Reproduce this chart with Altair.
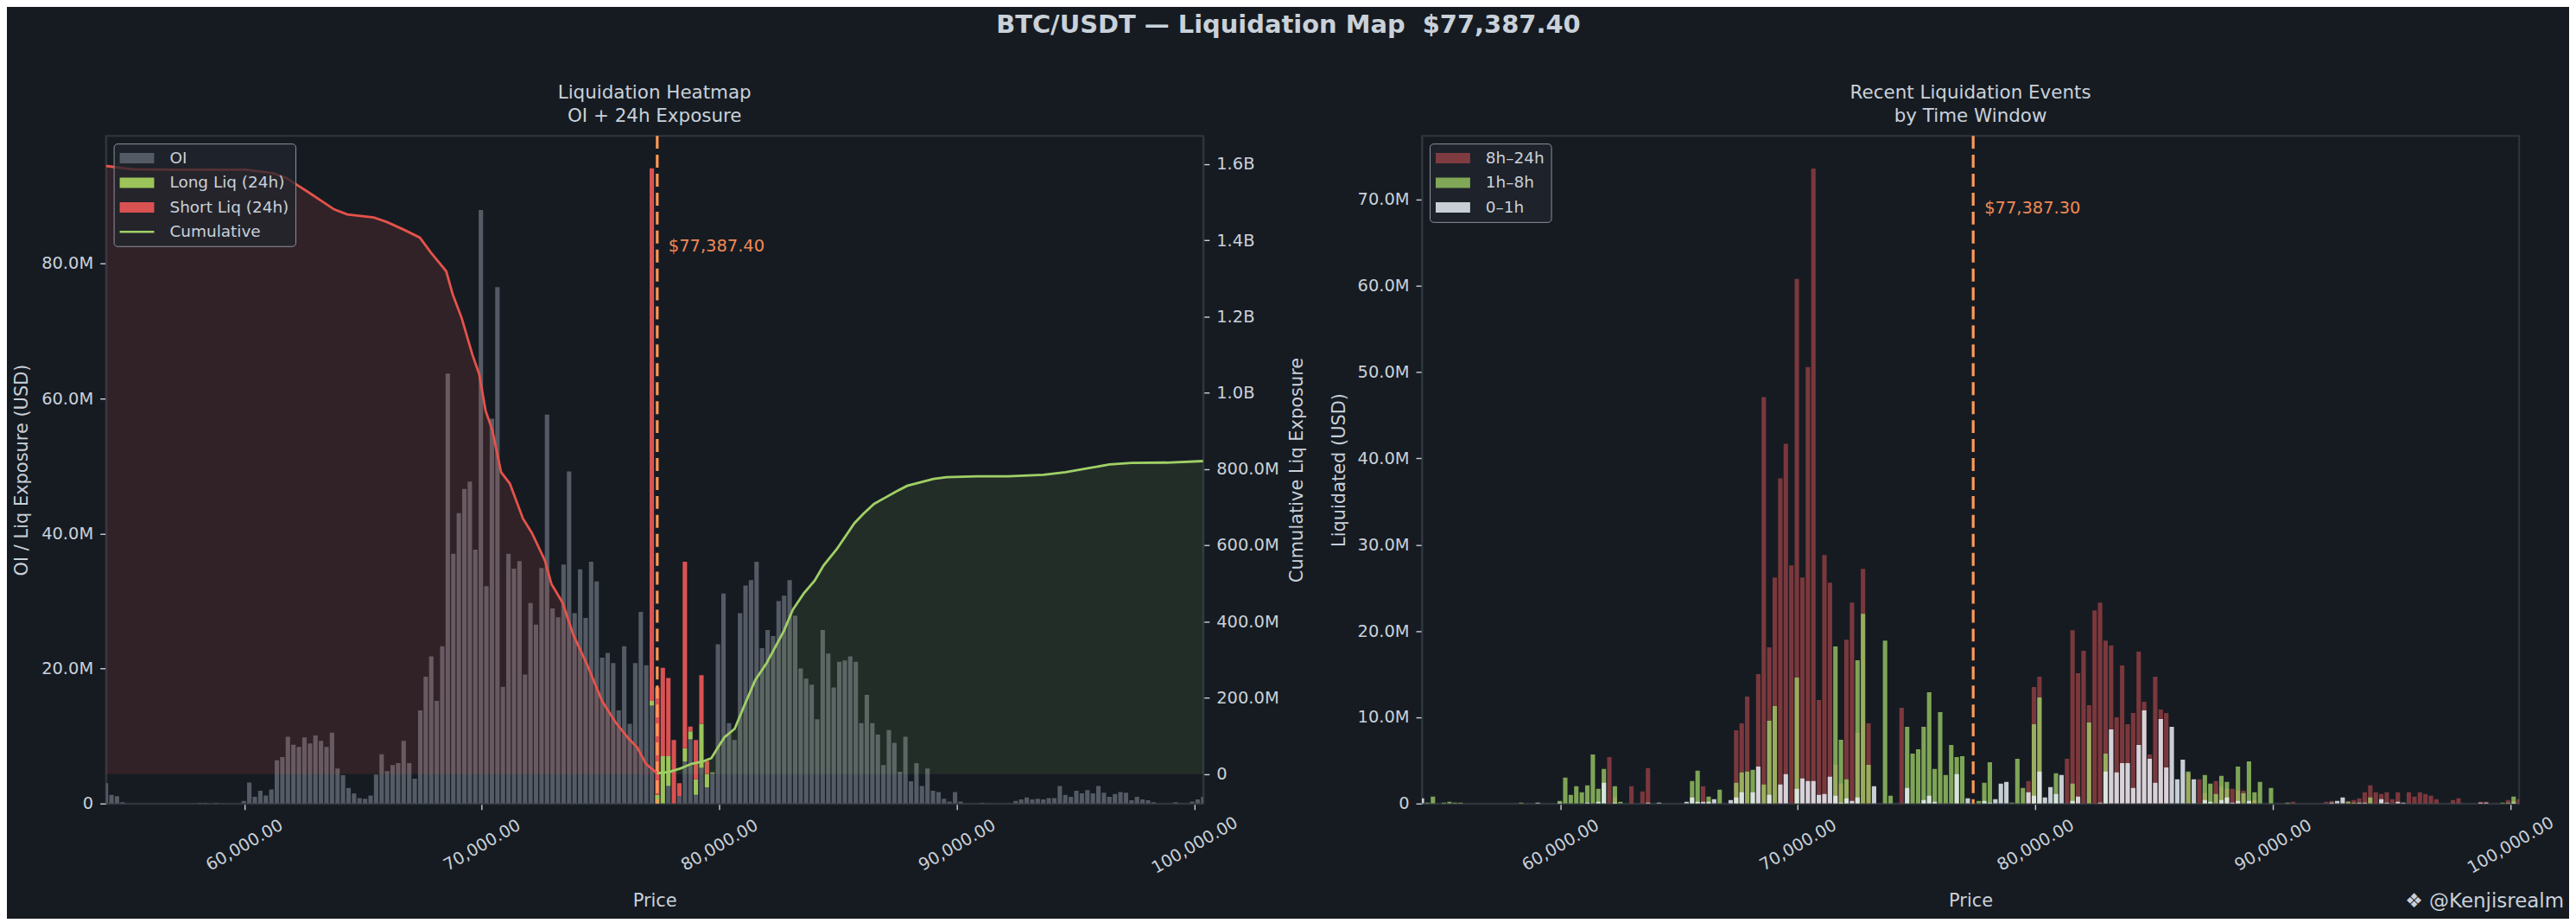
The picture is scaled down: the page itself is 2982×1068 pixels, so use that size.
import altair as alt
import pandas as pd

# ---------------- values ----------------
PRICE_LO = 54180.0
PRICE_HI = 100370.0
N_BINS = 200
PRICE_NOW_LEFT = 77387.40
PRICE_NOW_RIGHT = 77387.30

# open interest per price bin (millions USD)
OI_M = [
    3.0, 1.3, 1.1, 0.2, 0, 0, 0, 0, 0, 0,
    0, 0, 0, 0, 0, 0, 0, 0.1, 0.1, 0,
    0.1, 0, 0, 0, 0, 0.4, 3.1, 1.0, 1.9, 1.2,
    2.1, 6.4, 6.9, 9.9, 8.7, 8.4, 9.8, 8.9, 10.1, 9.3,
    8.4, 10.5, 5.2, 4.2, 2.3, 1.5, 0.8, 0.7, 1.2, 4.3,
    7.3, 4.8, 5.7, 6.0, 9.3, 6.0, 3.7, 13.8, 18.8, 21.8,
    15.2, 23.3, 63.7, 37.0, 43.0, 46.6, 47.7, 37.6, 87.9, 32.2,
    57.0, 76.5, 17.3, 37.0, 34.8, 35.9, 19.1, 29.7, 26.5, 34.9,
    57.6, 28.9, 27.6, 35.4, 49.2, 28.2, 34.7, 27.5, 35.8, 32.9,
    21.6, 22.3, 20.8, 13.8, 23.3, 11.8, 20.8, 28.4, 20.5, 14.5,
    0, 0, 2.6, 0, 1.1, 6.2, 9.5, 1.3, 5.3, 2.4,
    4.5, 23.6, 31.1, 11.9, 9.4, 28.2, 32.3, 33.1, 35.8, 23.0,
    25.7, 24.8, 30.0, 30.8, 33.1, 27.8, 20.0, 18.5, 17.6, 12.5,
    25.7, 22.2, 17.2, 21.0, 21.2, 21.8, 21.0, 11.9, 16.1, 11.9,
    10.2, 5.7, 10.9, 9.0, 4.7, 9.9, 3.3, 6.0, 2.6, 5.2,
    1.9, 1.7, 0.7, 0.3, 1.7, 0.3, 0, 0, 0, 0.1,
    0, 0, 0, 0, 0, 0.4, 0.6, 0.9, 0.6, 0.7,
    0.6, 0.8, 0.8, 2.6, 1.3, 1.0, 1.9, 1.5, 2.0, 1.5,
    2.6, 1.6, 1.0, 1.4, 1.7, 1.6, 0.5, 1.0, 0.6, 0.5,
    0.2, 0, 0, 0, 0.2, 0, 0, 0.3, 0.6, 1.0,
]

# 24h liquidation exposure near price (bin index, millions USD)
LONG_BIN = [99, 100, 101, 102, 105, 106, 107, 108, 109, 110]
LONG_M = [0.7, 1.3, 7.0, 4.4, 2.0, 1.2, 2.3, 6.5, 2.0, 0.1]
SHORT_BIN = [99, 100, 101, 102, 103, 104, 105, 106, 107, 108, 109]
SHORT_M = [78.9, 15.9, 13.1, 11.6, 9.4, 1.9, 27.6, 0.7, 5.8, 7.2, 1.9]

# cumulative exposure curves (price, millions USD)
RED_CUM_PRICE = [54180, 55286, 57134, 58983, 60092, 61201, 61756, 62680, 63789, 64343,
                 65452, 66007, 66746, 67393, 67855, 68503, 68780, 69150, 69612, 69889,
                 70166, 70443, 70813, 71183, 71737, 72107, 72661, 72938, 73400, 73863,
                 74417, 75064, 75619, 76173, 76543, 76913, 77387]
RED_CUM_M = [1595, 1586, 1585, 1585, 1585, 1576, 1564, 1527, 1481, 1468,
             1460, 1448, 1427, 1407, 1368, 1319, 1258, 1197, 1099, 1050,
             952, 903, 792, 762, 670, 633, 560, 498, 450, 364,
             290, 192, 137, 94, 70, 27, 2]
GREEN_CUM_PRICE = [77387, 77907, 78370, 78833, 79296, 79667, 79944, 80222, 80648, 81056,
                   81519, 81981, 82352, 82722, 83093, 83556, 84019, 84389, 84944, 85685,
                   86056, 86519, 86981, 87444, 87907, 88463, 89019, 89574, 90870, 92167,
                   93648, 94574, 95500, 96426, 97352, 98833, 100370]
GREEN_CUM_M = [2, 6, 15, 27, 33, 42, 70, 97, 119, 180,
               247, 290, 333, 376, 431, 474, 508, 547, 590, 658,
               682, 709, 725, 741, 756, 765, 774, 779, 781, 781,
               785, 792, 802, 812, 816, 817, 821]

# recent liquidation events by time window (bin index, millions USD)
EV_8_24_BIN = [34, 35, 38, 40, 41, 51, 57, 58, 59, 61, 62, 63, 64, 65, 66, 67, 68, 69, 70, 71,
               72, 73, 74, 75, 76, 77, 78, 79, 80, 81, 87, 110, 111, 112, 117, 118, 119, 120, 121, 122,
               123, 124, 125, 126, 127, 128, 129, 130, 131, 132, 133, 134, 135, 139, 141, 142, 144, 145, 146, 147,
               148, 149, 151, 158, 164, 165, 168, 169, 170, 171, 172, 173, 174, 175, 176, 177, 179, 180, 181, 182,
               183, 184, 187, 188, 192, 193, 197, 198, 199]
EV_8_24_M = [5.4, 0.7, 2.0, 1.4, 4.1, 2.0, 8.5, 9.3, 12.4, 15.0, 47.1, 18.1, 26.2, 37.7, 41.7, 27.6, 60.8, 26.2, 50.6, 73.6,
             12.0, 28.8, 25.6, 4.5, 2.3, 19.0, 23.3, 8.2, 27.2, 9.3, 11.1, 2.6, 13.5, 14.7, 5.2, 20.1, 15.1, 17.7, 11.4, 22.4,
             23.3, 18.9, 18.3, 10.0, 16.0, 9.2, 10.5, 17.6, 11.8, 5.7, 14.7, 10.9, 10.5, 3.5, 2.8, 1.2, 2.6, 2.0, 1.7, 1.7,
             1.5, 1.5, 0.4, 0.2, 0.2, 0.3, 0.3, 0.4, 0.6, 1.3, 2.1, 1.3, 1.1, 1.3, 0.5, 1.3, 1.3, 0.8, 1.3, 1.1,
             0.9, 0.5, 0.4, 0.6, 0.2, 0.2, 0.4, 0.3, 0.5]
EV_1_8_BIN = [1, 2, 4, 5, 6, 7, 18, 25, 26, 27, 28, 29, 30, 31, 32, 33, 35, 36, 49, 50,
              52, 54, 57, 58, 59, 60, 62, 63, 64, 68, 75, 76, 77, 79, 80, 81, 84, 85, 88, 89,
              90, 91, 92, 93, 94, 95, 96, 97, 98, 101, 102, 103, 107, 108, 109, 111, 112, 115, 118, 121,
              124, 139, 142, 143, 144, 145, 146, 148, 149, 150, 151, 152, 154, 157, 168, 169, 172, 196, 197, 198]
EV_1_8_M = [0.1, 0.8, 0.1, 0.2, 0.1, 0.1, 0.1, 0.3, 3.0, 1.0, 2.0, 1.3, 2.1, 5.7, 1.7, 4.0, 2.0, 0.2, 2.6, 3.8,
            0.8, 1.6, 2.4, 3.6, 3.7, 3.9, 2.2, 9.6, 11.3, 14.6, 18.2, 7.4, 2.8, 16.6, 22.0, 4.5, 18.9, 0.9, 8.9, 5.8,
            6.3, 8.9, 12.9, 4.0, 10.6, 3.3, 6.8, 5.4, 5.5, 0.3, 2.4, 4.8, 0.1, 5.2, 1.8, 9.2, 12.3, 3.5, 2.3, 9.4,
            5.8, 3.7, 3.3, 2.3, 1.1, 3.2, 2.5, 4.3, 1.2, 4.9, 1.3, 2.5, 1.8, 0.1, 0.2, 0.1, 0.7, 0.1, 0.1, 0.8]
EV_0_1_BIN = [0, 21, 25, 30, 32, 33, 35, 41, 43, 48, 49, 50, 51, 52, 53, 56, 57, 58, 60, 61,
              63, 65, 66, 68, 69, 70, 71, 72, 73, 74, 75, 76, 77, 78, 79, 82, 88, 91, 92, 93,
              97, 99, 102, 103, 104, 105, 106, 110, 111, 112, 113, 114, 115, 116, 118, 119, 123, 124, 125, 126,
              127, 128, 129, 130, 131, 132, 133, 134, 135, 136, 137, 138, 140, 142, 143, 145, 146, 147, 148, 150,
              165, 166, 167, 170, 171, 174, 175, 177, 178, 192, 193, 198]
EV_0_1_M = [0.6, 0.1, 0.1, 0.1, 0.2, 2.4, 0.1, 0.1, 0.1, 0.2, 0.7, 0.2, 0.2, 0.2, 0.5, 0.4, 0.7, 1.3, 1.3, 4.3,
            1.0, 2.2, 3.4, 1.7, 2.9, 2.6, 2.6, 1.0, 1.1, 3.1, 0.9, 0.1, 0.6, 0.3, 0.7, 2.0, 1.8, 0.4, 0.9, 0.2,
            3.4, 0.6, 0.3, 0.1, 0.5, 2.3, 2.5, 1.3, 0.9, 3.7, 0.7, 1.9, 1.1, 3.3, 0.3, 0.8, 0.1, 3.7, 8.6, 3.6,
            4.7, 4.7, 1.8, 6.8, 10.8, 5.2, 2.4, 9.8, 4.2, 8.9, 2.8, 5.1, 2.8, 0.4, 0.2, 0.4, 0.7, 0.1, 0.3, 0.3,
            0.1, 0.3, 0.7, 0.1, 0.1, 0.5, 0.1, 0.2, 0.1, 0.1, 0.1, 0.1]

LEFT_SERIES = ["OI", "Long Liq (24h)", "Short Liq (24h)", "Cumulative"]
RIGHT_SERIES = ["8h\u201324h", "1h\u20138h", "0\u20131h"]

# ---------------- styling ----------------
BG = "#161b22"
FG = "#c9d1d9"
SPINE = "#30363d"
FONT = "DejaVu Sans"
ORANGE = "#ff9a55"
ORANGE_TXT = "#f08a55"
RED_LINE = "#e5534b"
GREEN_LINE = "#a0d066"
LEFT_COLORS = ["#555b65", "#9cc45a", "#d95252", GREEN_LINE]
RIGHT_COLORS = ["rgba(224,85,85,0.5)", "rgba(164,216,105,0.73)", "rgba(230,237,243,0.85)"]
PLOT_W, PLOT_H = 1274, 775

# ---------------- data tables ----------------
step = (PRICE_HI - PRICE_LO) / (N_BINS - 1)
half = 0.4 * step


def edges(i):
    c = PRICE_LO + i * step
    return c - half, c + half


long_full = [0.0] * N_BINS
for b, v in zip(LONG_BIN, LONG_M):
    long_full[b] = v
short_full = [0.0] * N_BINS
for b, v in zip(SHORT_BIN, SHORT_M):
    short_full[b] = v

left_rows = []
for i in range(N_BINS):
    x0, x1 = edges(i)
    base = 0.0
    for k, (name, v) in enumerate([(LEFT_SERIES[0], OI_M[i]), (LEFT_SERIES[1], long_full[i]),
                                   (LEFT_SERIES[2], short_full[i])]):
        if v > 0:
            left_rows.append({"series": name, "x0": x0, "x1": x1,
                              "y0": base * 1e6, "y1": (base + v) * 1e6, "k": k})
            base += v
df_left = pd.DataFrame(left_rows)

df_red = pd.DataFrame({"price": RED_CUM_PRICE, "cum": [v * 1e6 for v in RED_CUM_M]})
df_green = pd.DataFrame({"price": GREEN_CUM_PRICE, "cum": [v * 1e6 for v in GREEN_CUM_M]})

right_rows = []
for k, (name, bins, vals) in enumerate([(RIGHT_SERIES[0], EV_8_24_BIN, EV_8_24_M),
                                        (RIGHT_SERIES[1], EV_1_8_BIN, EV_1_8_M),
                                        (RIGHT_SERIES[2], EV_0_1_BIN, EV_0_1_M)]):
    for b, v in zip(bins, vals):
        x0, x1 = edges(b)
        right_rows.append({"window": name, "x0": x0, "x1": x1, "v": v * 1e6, "k": k})
df_right = pd.DataFrame(right_rows)

# ---------------- scales / axes ----------------
x_scale = alt.Scale(domain=[PRICE_LO, PRICE_HI], nice=False, zero=False)


def x_axis():
    return alt.Axis(values=[60000, 70000, 80000, 90000, 100000], format=",.2f",
                    labelAngle=330, labelAlign="center", labelBaseline="middle",
                    labelPadding=41, labelFlush=False, labelOverlap=False,
                    title="Price", titlePadding=18)


M_EXPR = "datum.value == 0 ? '0' : format(datum.value / 1e6, '.1f') + 'M'"
MB_EXPR = ("datum.value == 0 ? '0' : (datum.value >= 1e9 ? format(datum.value / 1e9, '.1f') + 'B' "
           ": format(datum.value / 1e6, '.1f') + 'M')")

left_y_scale = alt.Scale(domain=[0, 98.9e6], nice=False, zero=False)
left_y_axis = alt.Axis(values=[0, 20e6, 40e6, 60e6, 80e6], labelExpr=M_EXPR,
                       title="OI / Liq Exposure (USD)", titlePadding=12, orient="left")
cum_scale = alt.Scale(domain=[-77.2e6, 1674e6], nice=False, zero=False)
cum_axis = alt.Axis(values=[0, 2e8, 4e8, 6e8, 8e8, 1e9, 1.2e9, 1.4e9, 1.6e9], labelExpr=MB_EXPR,
                    title="Cumulative Liq Exposure", orient="right", titleAngle=270,
                    titleBaseline="top", titlePadding=10)
right_y_scale = alt.Scale(domain=[0, 77.4e6], nice=False, zero=False)
right_y_axis = alt.Axis(values=[0, 1e7, 2e7, 3e7, 4e7, 5e7, 6e7, 7e7], labelExpr=M_EXPR,
                        title="Liquidated (USD)", titlePadding=11, orient="left")

# legend patches: path units are scaled by sqrt(symbolSize)/2 = 10 px
BAR_SYMBOL = "M-2,-0.6H2V0.6H-2Z"
LINE_SYMBOL = "M-2,-0.13H2V0.13H-2Z"

left_legend = alt.Legend(
    title=None, orient="top-left",
    symbolType=alt.ExprRef(f"datum.value === 'Cumulative' ? '{LINE_SYMBOL}' : '{BAR_SYMBOL}'"),
)
right_legend = alt.Legend(title=None, orient="top-left", symbolType=BAR_SYMBOL)

# ---------------- left panel ----------------
bars_left = alt.Chart(df_left).mark_bar(clip=True).encode(
    x=alt.X("x0:Q", scale=x_scale, axis=x_axis()),
    x2="x1:Q",
    y=alt.Y("y0:Q", scale=left_y_scale, axis=left_y_axis),
    y2="y1:Q",
    color=alt.Color("series:N", scale=alt.Scale(domain=LEFT_SERIES, range=LEFT_COLORS), legend=left_legend),
    order=alt.Order("k:Q"),
)
rule_left = alt.Chart(pd.DataFrame({"p": [PRICE_NOW_LEFT]})).mark_rule(
    color=ORANGE, strokeWidth=3.2, strokeDash=[15, 7]
).encode(x=alt.X("p:Q", scale=x_scale, axis=x_axis()))
label_left = alt.Chart(pd.DataFrame({"p": [PRICE_NOW_LEFT], "y": [82.5e6], "t": ["$77,387.40"]})).mark_text(
    align="left", baseline="middle", dx=13, fontSize=19.5, color=ORANGE_TXT, font=FONT
).encode(x=alt.X("p:Q", scale=x_scale, axis=x_axis()),
         y=alt.Y("y:Q", scale=left_y_scale, axis=left_y_axis), text="t:N")

group_bars = alt.layer(bars_left, rule_left, label_left)

area_red = alt.Chart(df_red).mark_area(color=RED_LINE, opacity=0.13, clip=True).encode(
    x=alt.X("price:Q", scale=x_scale, axis=x_axis()),
    y=alt.Y("cum:Q", scale=cum_scale, axis=cum_axis), y2=alt.datum(0))
area_green = alt.Chart(df_green).mark_area(color=GREEN_LINE, opacity=0.1, clip=True).encode(
    x=alt.X("price:Q", scale=x_scale, axis=x_axis()),
    y=alt.Y("cum:Q", scale=cum_scale, axis=cum_axis), y2=alt.datum(0))
line_red = alt.Chart(df_red).mark_line(color=RED_LINE, strokeWidth=2.8, clip=True).encode(
    x=alt.X("price:Q", scale=x_scale, axis=x_axis()),
    y=alt.Y("cum:Q", scale=cum_scale, axis=cum_axis))
line_green = alt.Chart(df_green).mark_line(color=GREEN_LINE, strokeWidth=2.8, clip=True).encode(
    x=alt.X("price:Q", scale=x_scale, axis=x_axis()),
    y=alt.Y("cum:Q", scale=cum_scale, axis=cum_axis))
group_cum = alt.layer(area_red, area_green, line_red, line_green)

left = alt.layer(group_bars, group_cum).resolve_scale(y="independent").properties(
    width=PLOT_W, height=PLOT_H,
    title=alt.TitleParams(["Liquidation Heatmap", "OI + 24h Exposure"], fontSize=21.5,
                          fontWeight="normal", anchor="middle", offset=10, lineHeight=27, color=FG, font=FONT),
)

# ---------------- right panel ----------------
bars_right = alt.Chart(df_right).mark_bar(clip=True).encode(
    x=alt.X("x0:Q", scale=x_scale, axis=x_axis()),
    x2="x1:Q",
    y=alt.Y("v:Q", scale=right_y_scale, axis=right_y_axis, stack=None),
    y2=alt.datum(0),
    color=alt.Color("window:N", scale=alt.Scale(domain=RIGHT_SERIES, range=RIGHT_COLORS), legend=right_legend),
    order=alt.Order("k:Q"),
)
rule_right = alt.Chart(pd.DataFrame({"p": [PRICE_NOW_RIGHT]})).mark_rule(
    color=ORANGE, strokeWidth=3.2, strokeDash=[15, 7]
).encode(x=alt.X("p:Q", scale=x_scale, axis=x_axis()))
label_right = alt.Chart(pd.DataFrame({"p": [PRICE_NOW_RIGHT], "y": [69.0e6], "t": ["$77,387.30"]})).mark_text(
    align="left", baseline="middle", dx=13, fontSize=19.5, color=ORANGE_TXT, font=FONT
).encode(x=alt.X("p:Q", scale=x_scale, axis=x_axis()),
         y=alt.Y("y:Q", scale=right_y_scale, axis=right_y_axis), text="t:N")
watermark = alt.Chart(pd.DataFrame({"t": ["\u2756 @Kenjisrealm"]})).mark_text(
    align="right", baseline="alphabetic", fontSize=23, color=FG, font=FONT
).encode(x=alt.value(PLOT_W + 52), y=alt.value(PLOT_H + 121), text="t:N")

right = alt.layer(bars_right, rule_right, label_right, watermark).properties(
    width=PLOT_W, height=PLOT_H,
    title=alt.TitleParams(["Recent Liquidation Events", "by Time Window"], fontSize=21.5,
                          fontWeight="normal", anchor="middle", offset=10, lineHeight=27, color=FG, font=FONT),
)

chart = alt.hconcat(left, right, spacing=25).resolve_scale(
    color="independent", x="independent", y="independent"
).properties(
    title=alt.TitleParams("BTC/USDT \u2014 Liquidation Map \u00a0$77,387.40", fontSize=29, fontWeight="bold",
                          anchor="middle", color=FG, font=FONT, offset=52),
).configure(
    background=BG, padding=5, font=FONT,
).configure_view(
    stroke=SPINE, strokeWidth=2, fill=BG,
).configure_axis(
    domainColor=SPINE, domainWidth=2, tickColor=FG, tickWidth=1.4, tickSize=7,
    labelColor=FG, labelFont=FONT, labelFontSize=19.5, labelPadding=8,
    titleColor=FG, titleFont=FONT, titleFontSize=21, titleFontWeight="normal", grid=False,
).configure_legend(
    orient="top-left", offset=9, padding=7, fillColor="rgba(33,38,45,0.75)", strokeColor="#8b949e",
    cornerRadius=4, labelColor=FG, labelFont=FONT, labelFontSize=18.5, labelOffset=28, labelLimit=300,
    symbolSize=400, symbolOffset=10, rowPadding=8.5, symbolStrokeWidth=0,
)

chart.save("out.html", embed_options={"renderer": "svg", "actions": False})
